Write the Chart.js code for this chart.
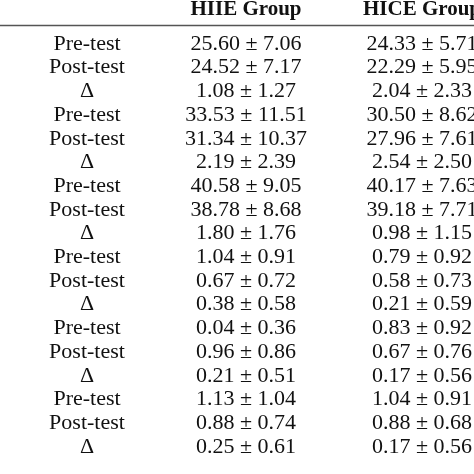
<!DOCTYPE html>
<html><head><meta charset="utf-8">
<script src="https://cdn.jsdelivr.net/npm/chart.js@4"></script>
<style>html,body{margin:0;padding:0;background:#fff}#w{width:474px;height:474px}</style>
</head><body><div id="w"><canvas id="c"></canvas></div>
<script>
const headers = ["", "HIIE Group", "HICE Group"];
const rowLabels = ["Pre-test","Post-test","Δ","Pre-test","Post-test","Δ","Pre-test","Post-test","Δ","Pre-test","Post-test","Δ","Pre-test","Post-test","Δ","Pre-test","Post-test","Δ"];
const hiieMean = [25.60,24.52,1.08,33.53,31.34,2.19,40.58,38.78,1.80,1.04,0.67,0.38,0.04,0.96,0.21,1.13,0.88,0.25];
const hiieSd   = [7.06,7.17,1.27,11.51,10.37,2.39,9.05,8.68,1.76,0.91,0.72,0.58,0.36,0.86,0.51,1.04,0.74,0.61];
const hiceMean = [24.33,22.29,2.04,30.50,27.96,2.54,40.17,39.18,0.98,0.79,0.58,0.21,0.83,0.67,0.17,1.04,0.88,0.17];
const hiceSd   = [5.71,5.95,2.33,8.62,7.61,2.50,7.63,7.71,1.15,0.92,0.73,0.59,0.92,0.76,0.56,0.91,0.68,0.56];

const colX = [87, 246, 422];
const tablePlugin = {
  id:'table',
  afterDraw(chart){
    const ctx = chart.ctx, ys = chart.scales.y, xs = chart.scales.x;
    ctx.save();
    ctx.fillStyle = '#111';
    ctx.textAlign = 'center';
    ctx.textBaseline = 'middle';
    ctx.font = 'bold 21px "Liberation Serif"';
    const hy = ys.getPixelForValue(-0.435);
    headers.forEach((h,i)=>{ if(h) ctx.fillText(h, xs.getPixelForValue(colX[i]), hy); });
    const ly = Math.round(ys.getPixelForValue(0.198)) + 0.5;
    ctx.strokeStyle = '#555'; ctx.lineWidth = 1.5;
    ctx.beginPath(); ctx.moveTo(0, ly); ctx.lineTo(474, ly); ctx.stroke();
    ctx.font = '22px "Liberation Serif"';
    rowLabels.forEach((l,i)=>{
      const y = ys.getPixelForValue(i+1);
      ctx.fillText(l, xs.getPixelForValue(colX[0]), y);
      ctx.fillText(hiieMean[i].toFixed(2)+' ± '+hiieSd[i].toFixed(2), xs.getPixelForValue(colX[1]), y);
      ctx.fillText(hiceMean[i].toFixed(2)+' ± '+hiceSd[i].toFixed(2), xs.getPixelForValue(colX[2]), y);
    });
    ctx.restore();
  }
};
new Chart(document.getElementById('c'), {
  type:'scatter',
  data:{datasets:[{data:[], pointRadius:0}]},
  options:{
    responsive:true, maintainAspectRatio:false, animation:false,
    layout:{padding:0},
    plugins:{legend:{display:false}, tooltip:{enabled:false}},
    scales:{
      x:{type:'linear', min:0, max:474, display:false},
      y:{type:'linear', min:-0.857, max:19.143, reverse:true, display:false}
    }
  },
  plugins:[tablePlugin]
});
</script></body></html>
